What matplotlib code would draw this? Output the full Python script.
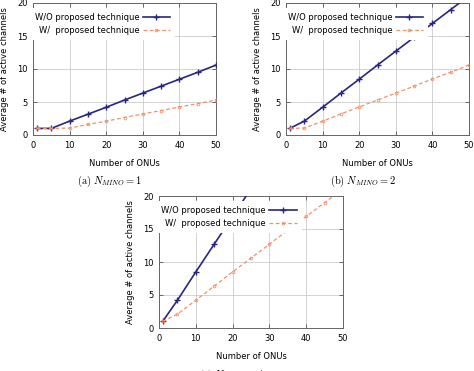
import matplotlib
matplotlib.use("Agg")
import matplotlib.pyplot as plt

plt.rcParams['mathtext.fontset'] = 'cm'
plt.rcParams['font.family'] = ['DejaVu Sans']

onus = [1, 5, 10, 15, 20, 25, 30, 35, 40, 45, 50]

# (a) N_MINO = 1
wo_a = [1.0, 1.0, 2.1, 3.15, 4.2, 5.3, 6.35, 7.4, 8.45, 9.5, 10.6]
w_a = [1.0, 1.0, 1.05, 1.6, 2.1, 2.65, 3.2, 3.7, 4.25, 4.75, 5.3]
# (b) N_MINO = 2
wo_b = [1.0, 2.1, 4.2, 6.35, 8.45, 10.6, 12.7, 14.8, 16.9, 19.0, 21.1]
w_b = [1.0, 1.05, 2.1, 3.2, 4.25, 5.3, 6.35, 7.4, 8.5, 9.5, 10.6]
# (c) N_MINO = 4
onus_c_wo = [1, 5, 10, 15, 20, 25]
wo_c = [1.0, 4.2, 8.5, 12.7, 16.9, 21.1]
w_c = [1.0, 2.1, 4.2, 6.35, 8.5, 10.6, 12.7, 14.8, 16.9, 19.0, 21.1]

labels = ["W/O proposed technique", "W/  proposed technique"]
captions = [r"$\mathrm{(a)}\ N_{MINO} = 1$", r"$\mathrm{(b)}\ N_{MINO} = 2$",
            r"$\mathrm{(c)}\ N_{MINO} = 4$"]

blue = "#27277f"
orange = "#f2906a"
fs = 6

W, H = 474, 371
fig = plt.figure(figsize=(W / 100, H / 100), dpi=100)


def px_axes(x0, x1, ytop, ybot):
    return fig.add_axes([x0 / W, 1 - ybot / H, (x1 - x0) / W, (ybot - ytop) / H])


panels = [
    (px_axes(33, 216, 3, 135), onus, wo_a, onus, w_a),
    (px_axes(286, 469, 3, 135), onus, wo_b, onus, w_b),
    (px_axes(159, 343, 196, 328), onus_c_wo, wo_c, onus, w_c),
]

for ax, x1, y1, x2, y2 in panels:
    ax.plot(x1, y1, color=blue, lw=1.2, marker='+', ms=5, mew=1.0,
            label=labels[0], zorder=3)
    ax.plot(x2, y2, color=orange, lw=0.9, ls=(0, (3, 2)), marker='o', ms=2,
            mew=0.6, mfc='none', label=labels[1], zorder=3)
    ax.set_xlim(0, 50)
    ax.set_ylim(0, 20)
    ax.set_xticks([0, 10, 20, 30, 40, 50])
    ax.set_yticks([0, 5, 10, 15, 20])
    ax.grid(True, color="#cccccc", lw=0.6)
    ax.set_axisbelow(True)
    ax.tick_params(direction='in', length=3, width=0.6, labelsize=fs,
                   top=True, right=True, color="#555555", pad=4)
    for s in ax.spines.values():
        s.set_color("#666666")
        s.set_linewidth(0.7)
    ax.set_xlabel("Number of ONUs", fontsize=fs, labelpad=6.5)
    ax.set_ylabel("Average # of active channels", fontsize=fs, labelpad=6)
    leg = ax.legend(loc='upper right', bbox_to_anchor=(0.776, 0.96),
                    fontsize=fs, markerfirst=False, frameon=True,
                    framealpha=1, facecolor='white', edgecolor='none',
                    fancybox=False, handlelength=3.3, handletextpad=0.4,
                    labelspacing=0.4, borderpad=0.6, borderaxespad=0)
    leg.set_zorder(5)

fig.text(110 / W, 1 - 181 / H, captions[0], ha='center', va='center', fontsize=7.5)
fig.text(363 / W, 1 - 181 / H, captions[1], ha='center', va='center', fontsize=7.5)
fig.text(232 / W, 1 - 375 / H, captions[2], ha='center', va='center', fontsize=7.5)

fig.savefig("out.png", dpi=100)
